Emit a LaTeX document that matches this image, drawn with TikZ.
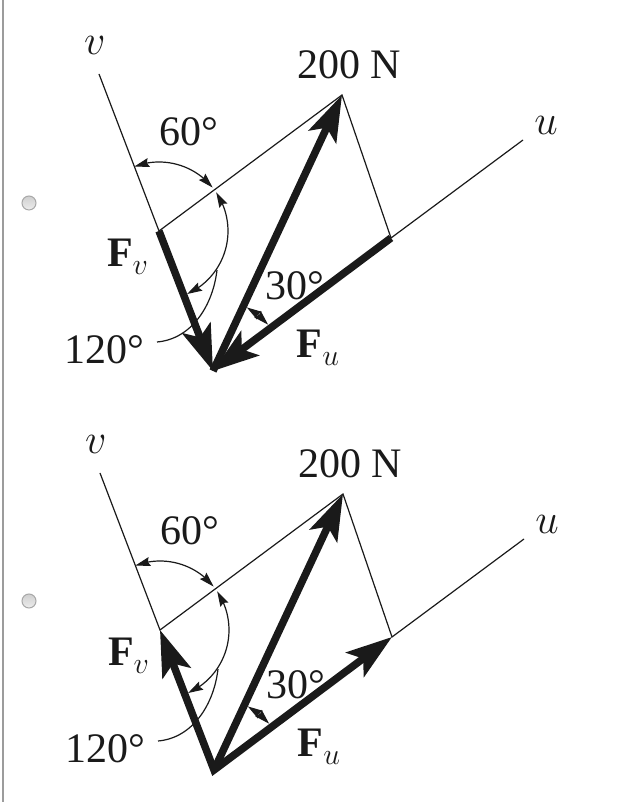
\RequirePackage{fix-cm}
\documentclass[tikz,border=0pt]{standalone}
\usepackage{fontspec}
\setmainfont{Liberation Serif}
\usepackage{xcolor}
\usetikzlibrary{arrows.meta,bending,calc}
\definecolor{inkblack}{HTML}{1A1A1A}
\definecolor{radiotop}{HTML}{CFCFCF}
\definecolor{radiolow}{HTML}{EDEDED}
\definecolor{radioedge}{HTML}{A8A8A8}
\definecolor{edgegray}{HTML}{9C9C9C}
\newcommand{\AxisLetter}[1]{{\usefont{OML}{cmm}{m}{it}#1}}
\newcommand{\SubAxis}[1]{\raisebox{-8pt}{\fontsize{30}{30}\selectfont\AxisLetter{#1}}}
\tikzset{
  thinline/.style={line width=1.2pt, draw=inkblack},
  force/.style={line width=7.5pt, draw=inkblack, miter limit=10,
    >={Stealth[length=46pt,width=30pt,inset=10pt]}},
  anglearc/.style={line width=1.2pt, draw=inkblack,
    >={Stealth[length=15pt,width=9pt,inset=2pt]}},
  textlabel/.style={font=\fontsize{42}{42}\selectfont, text=inkblack, inner sep=0pt},
  radio/.style={circle, draw=radioedge, top color=radiotop, bottom color=radiolow,
    line width=1pt, minimum size=14pt, inner sep=0pt}
}
% Everything the two options have in common
\newcommand{\ForceFrame}{
  \coordinate (apex) at (213,434);
  \coordinate (top) at (342,710);
  \coordinate (vend) at (99,731);
  \coordinate (vfoot) at (159,574);
  \coordinate (uend) at (523,665);
  \coordinate (ufoot) at (391,567);
  \coordinate (leadstart) at (157,463);
  \coordinate (leadend) at (217,535);

  % Axes and parallelogram
  \draw[thinline] (vend) -- (vfoot) -- (top) -- (ufoot) -- (uend);

  % Angle arcs
  \draw[anglearc, <->] ($(vfoot)+(111:69)$) arc[start angle=111, end angle=39, radius=69];
  \draw[anglearc, <->] ($(vfoot)+(34:69)$) arc[start angle=34, end angle=-66, radius=69];
  \draw[anglearc, <->] ($(apex)+(62:72)$) arc[start angle=62, end angle=40, radius=72];
  \draw[thinline] (leadstart) .. controls (192,466) and (213,500) .. (leadend);

  % Labels
  \node[textlabel] (vlabel) at (94,760) {\AxisLetter{v}};
  \node[textlabel] (ulabel) at (546,680) {\AxisLetter{u}};
  \node[textlabel] (loadlabel) at (349,740) {200 N};
  \node[textlabel] (sixtylabel) at (189,673) {60°};
  \node[textlabel] (onetwentylabel) at (104,455) {120°};
  \node[textlabel] (thirtylabel) at (295,519) {30°};
  \node[textlabel] (fvlabel) at (127,548) {\textbf{F}\SubAxis{v}};
  \node[textlabel] (fulabel) at (318,457) {\textbf{F}\SubAxis{u}};

  % Resultant
  \draw[force, ->] (apex) -- (top);
}

\begin{document}
\begin{tikzpicture}[x=1pt, y=1pt]
  \useasboundingbox (0,0) rectangle (624,805);
  \fill[white] (0,0) rectangle (624,805);

  % Page edge and radio buttons
  \draw[line width=2pt, draw=edgegray] (2.5,805) -- (2.5,3);
  \node[radio] (radioa) at (29,602) {};
  \node[radio] (radiob) at (29,204) {};

  % First option: components point at the apex
  \begin{scope}[name prefix=a-]
    \ForceFrame
    \draw[force, ->] (vfoot) -- (apex);
    \draw[force, ->] (ufoot) -- (apex);
  \end{scope}

  % Second option: components leave the apex
  \begin{scope}[name prefix=b-, xshift=1pt, yshift=-399pt]
    \ForceFrame
    \draw[force, <->] (vfoot) -- (apex) -- (ufoot);
  \end{scope}
\end{tikzpicture}
\end{document}
